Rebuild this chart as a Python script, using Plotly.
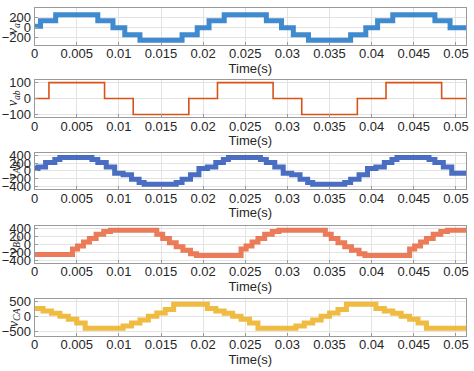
import plotly.graph_objects as go

# ---------------- data ----------------
time_ticks = [0, 0.005, 0.01, 0.015, 0.02, 0.025, 0.03, 0.035, 0.04, 0.045, 0.05]
time_text = ["0", "0.005", "0.01", "0.015", "0.02", "0.025", "0.03", "0.035", "0.04", "0.045", "0.05"]

# panel 1: phase voltage staircase
va_t = [0, 0.0007, 0.0025, 0.0075, 0.0093, 0.0107, 0.0125, 0.0175, 0.0193,
        0.0207, 0.0225, 0.0275, 0.0293, 0.0307, 0.0325, 0.0375, 0.0393,
        0.0407, 0.0425, 0.0475, 0.0493, 0.0512]
va_v = [30, 140, 260, 140, 0, -140, -250, -140, 0,
        140, 260, 140, 0, -140, -250, -140, 0,
        140, 260, 140, 0, 0]

# panel 2: v_ab quasi-square
vab_t = [0, 0.0017, 0.0083, 0.0117, 0.0183, 0.0217, 0.0283, 0.0317, 0.0383, 0.0417, 0.0483, 0.0512]
vab_v = [0, 100, 0, -100, 0, 100, 0, -100, 0, 100, 0, 0]

# panel 3: v_AB
vAB_t = [0, 0.0004, 0.0013, 0.0024, 0.0030, 0.0068, 0.0075, 0.0085, 0.0095, 0.0105, 0.0115, 0.0124, 0.0130,
         0.0168, 0.0175, 0.0185, 0.0195, 0.0205, 0.0215, 0.0224, 0.0230, 0.0268, 0.0275, 0.0285, 0.0295,
         0.0305, 0.0315, 0.0324, 0.0330, 0.0368, 0.0375, 0.0385, 0.0395, 0.0405, 0.0415, 0.0424, 0.0430,
         0.0468, 0.0475, 0.0485, 0.0495, 0.0512]
vAB_v = [60, 100, 220, 300, 350, 300, 220, 100, -60, -100, -220, -300, -350,
         -300, -220, -100, 60, 100, 220, 300, 350, 300, 220, 100, -60,
         -100, -220, -300, -350, -300, -220, -100, 60, 100, 220, 300, 350,
         300, 220, 100, -60, -60]

# panel 4: v_BC
vBC_t = [0, 0.0045, 0.0051, 0.0058, 0.0065, 0.0073, 0.0082, 0.0090, 0.0145, 0.0152, 0.0160, 0.0168,
         0.0176, 0.0185, 0.0192, 0.0245, 0.0251, 0.0258, 0.0265, 0.0273, 0.0282, 0.0290, 0.0345,
         0.0352, 0.0360, 0.0368, 0.0376, 0.0385, 0.0392, 0.0445, 0.0451, 0.0458, 0.0465, 0.0473,
         0.0482, 0.0490, 0.0512]
vBC_v = [-260, -120, -40, 60, 150, 260, 330, 360, 260, 150, 40, -60,
         -150, -240, -280, -120, -40, 60, 150, 260, 330, 360, 260,
         150, 40, -60, -150, -240, -280, -120, -40, 60, 150, 260,
         330, 360, 360]

# panel 5: v_CA
vCA_t = [0, 0.0010, 0.0020, 0.0030, 0.0040, 0.0050, 0.0060, 0.0105, 0.0115, 0.0125, 0.0135, 0.0145,
         0.0155, 0.0165, 0.0205, 0.0215, 0.0225, 0.0235, 0.0245, 0.0255, 0.0265, 0.0310, 0.0320,
         0.0330, 0.0340, 0.0350, 0.0360, 0.0370, 0.0405, 0.0415, 0.0425, 0.0435, 0.0445, 0.0455,
         0.0465, 0.0512]
vCA_v = [280, 200, 120, 20, -80, -200, -380, -300, -200, -100, 20, 130,
         250, 420, 280, 200, 120, 20, -80, -200, -380, -300, -200,
         -100, 20, 130, 250, 420, 280, 200, 120, 20, -80, -200,
         -380, -380]

panels = [
    dict(t=va_t, v=va_v, color="#1f77c8", width=5, label="<i>v</i><sub><i>a1</i></sub>",
         ticks=[-200, 0, 200], rng=[-345, 395], shape="hv"),
    dict(t=vab_t, v=vab_v, color="#D95319", width=1.6, label="<i>v</i><sub><i>ab</i></sub>",
         ticks=[-100, 0, 100], rng=[-115, 117], shape="hv"),
    dict(t=vAB_t, v=vAB_v, color="#2a55b8", width=5, label="<i>v</i><sub><i>AB</i></sub>",
         ticks=[-400, -200, 0, 200, 400], rng=[-470, 470], shape="hv"),
    dict(t=vBC_t, v=vBC_v, color="#e8643c", width=5, label="<i>v</i><sub><i>BC</i></sub>",
         ticks=[-400, -200, 0, 200, 400], rng=[-470, 470], shape="hv"),
    dict(t=vCA_t, v=vCA_v, color="#EDB120", width=5, label="<i>v</i><sub><i>CA</i></sub>",
         ticks=[-500, 0, 500], rng=[-630, 600], shape="hv"),
]

W, H = 474, 371
box_px = [(3, 41), (77, 115), (152, 189), (227, 265), (302, 340)]
x_left, x_right = 31, 468

fig = go.Figure()
layout = dict(width=W, height=H, margin=dict(l=0, r=0, t=0, b=0),
              paper_bgcolor="white", plot_bgcolor="white", showlegend=False,
              font=dict(family="Liberation Sans, Arial", size=13, color="#262626"))
annotations = []
for i, p in enumerate(panels):
    n = "" if i == 0 else str(i + 1)
    top, bot = box_px[i]
    fig.add_trace(go.Scatter(x=p["t"], y=p["v"], mode="lines",
                             line=dict(shape=p["shape"], color=p["color"], width=p["width"]),
                             opacity=0.85 if p["width"] > 3 else 1.0,
                             xaxis="x" + n, yaxis="y" + n, hoverinfo="skip"))
    layout["xaxis" + n] = dict(domain=[x_left / W, x_right / W], range=[0, 0.0512],
                               anchor="y" + n, tickvals=time_ticks, ticktext=time_text,
                               showgrid=True, gridcolor="#e3e3e3", gridwidth=1,
                               ticks="inside", ticklen=3, tickcolor="#9a9a9a",
                               ticklabelstandoff=-3,
                               showline=True, linecolor="#9a9a9a", linewidth=1, mirror=True,
                               zeroline=False, tickfont=dict(size=13, color="#262626"),
                               title=dict(text="Time(s)", standoff=0,
                                          font=dict(size=13, color="#262626")))
    layout["yaxis" + n] = dict(domain=[1 - bot / H, 1 - top / H], range=p["rng"],
                               anchor="x" + n, tickvals=p["ticks"],
                               showgrid=True, gridcolor="#e3e3e3", gridwidth=1,
                               ticks="inside", ticklen=3, tickcolor="#9a9a9a",
                               showline=True, linecolor="#9a9a9a", linewidth=1, mirror=True,
                               zeroline=False, tickfont=dict(size=13, color="#262626"))
    annotations.append(dict(text=p["label"], xref="paper", yref="paper",
                            x=10 / W, y=1 - (top + bot) / 2 / H, showarrow=False,
                            textangle=-90, font=dict(family="Liberation Serif, Times New Roman",
                                                     size=14, color="#262626"),
                            xanchor="center", yanchor="middle"))
layout["annotations"] = annotations
fig.update_layout(**layout)
fig.write_html("out.html", config={"displayModeBar": False},
               post_script="document.body.style.margin='0px';document.body.style.padding='0px';")
